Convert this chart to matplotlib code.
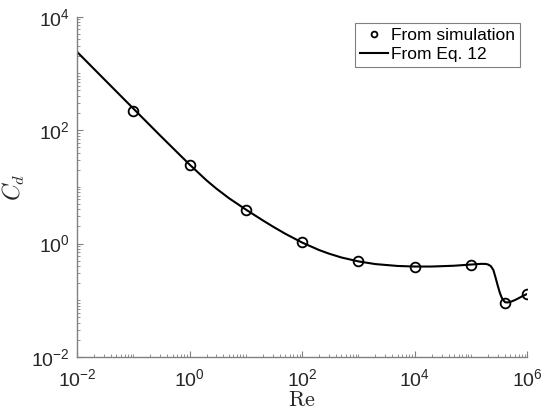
import numpy as np
import matplotlib
matplotlib.use('Agg')
import matplotlib.pyplot as plt
from matplotlib import rc
from matplotlib import ticker

rc('font', **{'family': 'Liberation Sans', 'size': 14})
rc('mathtext', **{'fontset': 'cm'})

# simulation points
re_sim = [0.1, 1, 10, 100, 1e3, 1e4, 1e5, 4.05e5, 1e6]
cd_sim = [219, 24.2, 3.95, 1.05, 0.486, 0.387, 0.425, 0.091, 0.130]

# Eq. 12 curve
re_eq = [0.01, 0.03, 0.1, 0.3, 1, 2, 3, 5, 10, 20, 30, 50, 100, 200, 300, 500,
         1e3, 2e3, 5e3, 1e4, 2e4, 5e4, 1e5, 1.5e5, 1.8e5, 2.0e5, 2.25e5, 2.5e5,
         2.75e5, 3.0e5, 3.25e5, 3.5e5, 3.75e5, 4.05e5, 4.5e5, 5e5, 6e5, 7e5, 8e5, 1e6]
cd_eq = [2400, 800, 240.4, 80.3, 24.7, 13.0, 9.28, 6.31, 3.97, 2.56, 2.00, 1.49, 1.04,
         0.768, 0.663, 0.567, 0.484, 0.434, 0.402, 0.393, 0.393, 0.406, 0.426, 0.438,
         0.437, 0.428, 0.40, 0.34, 0.245, 0.178, 0.136, 0.112, 0.100, 0.092, 0.0915,
         0.0935, 0.1005, 0.1085, 0.1164, 0.1296]

xticks = [1e-2, 1e0, 1e2, 1e4, 1e6]
yticks = [1e-2, 1e0, 1e2, 1e4]

gray = '#808080'
dark = '#262626'

fig = plt.figure(figsize=(5.5, 4.17), dpi=100)
ax = fig.add_axes([0.14, 0.144, 0.8187, 0.816])

ax.plot(re_eq, cd_eq, '-', color='k', lw=1.5, label='From Eq. 12', zorder=2)
ax.plot(re_sim, cd_sim, 'o', ms=7, mew=1.3, mfc='none', mec='k',
        label='From simulation', zorder=3)

ax.set_xscale('log')
ax.set_yscale('log')
ax.set_xlim(1e-2, 1e6)
ax.set_ylim(1e-2, 1e4)

fmt = ticker.FuncFormatter(lambda v, p: r'$\mathregular{10^{%d}}$' % round(np.log10(v)))
ax.xaxis.set_major_locator(ticker.FixedLocator(xticks))
ax.yaxis.set_major_locator(ticker.FixedLocator(yticks))
ax.xaxis.set_major_formatter(fmt)
ax.yaxis.set_major_formatter(fmt)
ax.xaxis.set_minor_locator(ticker.LogLocator(base=10, subs=np.arange(1, 10), numticks=20))
ax.yaxis.set_minor_locator(ticker.LogLocator(base=10, subs=np.arange(1, 10), numticks=20))
ax.xaxis.set_minor_formatter(ticker.NullFormatter())
ax.yaxis.set_minor_formatter(ticker.NullFormatter())

for s in ['top', 'right']:
    ax.spines[s].set_visible(False)
for s in ['left', 'bottom']:
    ax.spines[s].set_color(gray)
    ax.spines[s].set_linewidth(1.0)
ax.tick_params(which='both', direction='in', color=gray, labelcolor=dark, labelsize=14)
ax.tick_params(which='major', length=4, width=0.8)
ax.tick_params(axis='x', which='major', pad=8)
ax.tick_params(axis='y', which='major', pad=5)
ax.tick_params(which='minor', length=2.5, width=0.6)

ax.set_xlabel(r'$\mathrm{Re}$', fontsize=16, color=dark, labelpad=0)
ax.set_ylabel(r'$C_d$', fontsize=17, color=dark, labelpad=3)

# simulation entry first, as in the original
h, l = ax.get_legend_handles_labels()
leg = ax.legend(h[::-1], l[::-1], loc='upper right',
                bbox_to_anchor=(520 / 550, 1 - 23 / 417), bbox_transform=fig.transFigure,
                borderaxespad=0, fontsize=12.5, markerscale=0.6, handlelength=1.6,
                handletextpad=0.15, labelspacing=0.2, borderpad=0.3,
                fancybox=False, framealpha=1)
leg.get_frame().set_edgecolor(gray)
leg.get_frame().set_linewidth(0.8)

fig.savefig('out.png', dpi=100)
print('out.png')
